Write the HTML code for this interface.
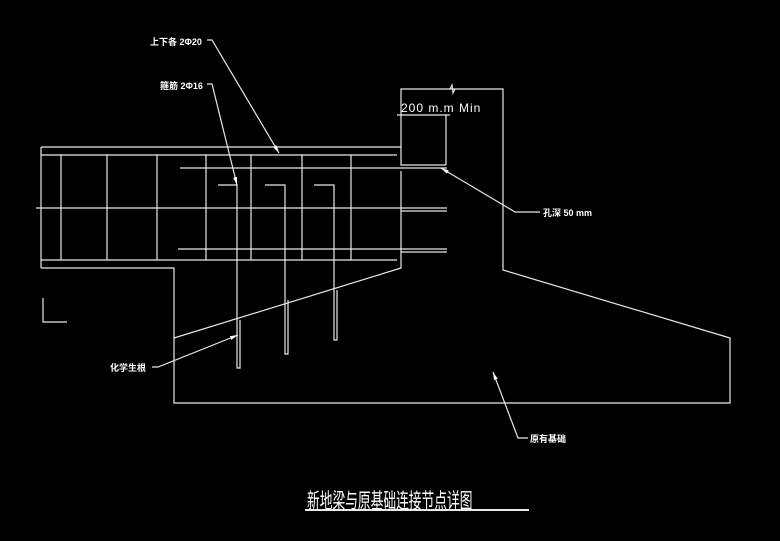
<!DOCTYPE html>
<html><head><meta charset="utf-8"><style>
html,body{margin:0;padding:0;background:#000;width:780px;height:541px;overflow:hidden}
svg{display:block}
text{fill:#fff;font-family:"Liberation Sans","Noto Sans CJK SC",sans-serif}
</style></head><body>
<svg width="780" height="541" viewBox="0 0 780 541" xmlns="http://www.w3.org/2000/svg">
<defs><marker id="a" markerWidth="8" markerHeight="4" refX="8" refY="2" orient="auto-start-reverse" markerUnits="userSpaceOnUse"><path d="M0,0 L8,2 L0,4z" fill="#fff"/></marker></defs>
<g stroke="#e8e8e8" stroke-width="1.2" fill="none">
<line x1="41" y1="147" x2="401" y2="147"/>
<line x1="41" y1="155" x2="397" y2="155"/>
<line x1="41" y1="260" x2="397" y2="260"/>
<polyline points="41,268 174,268 174,403 730,403 730,338 503,270 503,89 401,89 401,165 446,165"/>
<line x1="41" y1="147" x2="41" y2="268"/>
<polyline points="401,171 401,268 174,338"/>
<line x1="61" y1="155" x2="61" y2="260"/>
<line x1="107" y1="155" x2="107" y2="260"/>
<line x1="157" y1="155" x2="157" y2="260"/>
<line x1="206" y1="155" x2="206" y2="260"/>
<line x1="251" y1="155" x2="251" y2="260"/>
<line x1="302" y1="155" x2="302" y2="260"/>
<line x1="351" y1="155" x2="351" y2="260"/>
<line x1="36" y1="208" x2="447" y2="208"/>
<line x1="401" y1="211" x2="447" y2="211"/>
<line x1="180" y1="168" x2="447" y2="168"/>
<line x1="178" y1="249" x2="447" y2="249"/>
<line x1="401" y1="252" x2="447" y2="252"/>
<polyline points="218,185 237,185 237,368 240,368 240,320"/>
<polyline points="265,185 285,185 285,354 288,354 288,300"/>
<polyline points="314,185 334,185 334,340 337,340 337,290"/>
<line x1="397" y1="115" x2="450" y2="115"/>
<line x1="446" y1="115" x2="446" y2="165"/>
<path d="M450,89 l2,-4 l1,8 l2,-4"/>
<polyline points="43,298 43,322 67,322"/>
<polyline points="279,153 212,40 207,40" marker-start="url(#a)"/>
<polyline points="237,185 212,84 207,84" marker-start="url(#a)"/>
<polyline points="238,335 158,367 152,367" marker-start="url(#a)"/>
<polyline points="441,168 515,212 540,212" marker-start="url(#a)"/>
<polyline points="493,372 518,438 528,438" marker-start="url(#a)"/>
<line x1="305" y1="510" x2="529" y2="510" stroke-width="2"/>
</g>
<text x="401" y="112" font-size="12" letter-spacing="1">200 m.m Min</text>
<text x="150" y="45" font-size="9" font-weight="bold">上下各 2Φ20</text>
<text x="160" y="89" font-size="9" font-weight="bold">箍筋 2Φ16</text>
<text x="110" y="371" font-size="9" font-weight="bold">化学生根</text>
<text x="543" y="216" font-size="9" font-weight="bold">孔深 50 mm</text>
<text x="530" y="442" font-size="9" font-weight="bold">原有基础</text>
<text x="0" y="0" font-size="19" transform="translate(307,508) scale(0.67,1.1)">新地梁与原基础连接节点详图</text>
</svg>
</body></html>
